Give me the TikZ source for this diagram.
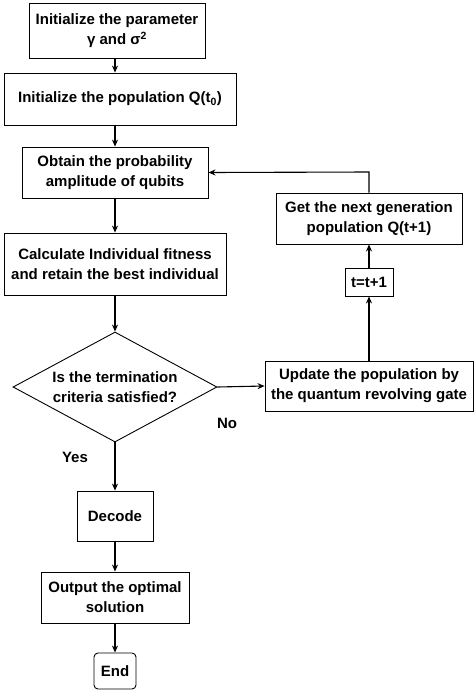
\documentclass[tikz,border=0pt]{standalone}
\usepackage{fontspec}
\setmainfont{Liberation Sans}
\usetikzlibrary{shapes.geometric,arrows.meta}
\tikzset{
  procbox/.style={draw, line width=0.9pt, align=center, inner sep=1pt},
  decbox/.style={draw, diamond, aspect=1.85, line width=0.9pt, align=center, inner sep=0pt},
  flow/.style={line width=1.1pt, -{Stealth[length=7pt,width=6pt]}}
}
\begin{document}
\begin{tikzpicture}[x=1pt, y=-1pt, font=\bfseries\fontsize{15}{20}\selectfont]
\useasboundingbox (0,0) rectangle (474,694);
\node[procbox, minimum width=176pt, minimum height=55pt] (init) at (117, 30.5) {Initialize the parameter\\γ and σ\textsuperscript{2}};
\node[procbox, minimum width=232pt, minimum height=52pt] (pop) at (120, 99) {Initialize the population Q(t\textsubscript{0})};
\node[procbox, minimum width=186pt, minimum height=51pt] (amp) at (115, 172.5) {Obtain the probability\\amplitude of qubits};
\node[procbox, minimum width=222pt, minimum height=62pt] (fit) at (115, 264) {Calculate Individual fitness\\and retain the best individual};
\node[decbox, minimum width=204pt, minimum height=110pt] (term) at (115, 387) {Is the termination\\criteria satisfied?};
\node[procbox, minimum width=208pt, minimum height=50pt] (upd) at (369, 386) {Update the population by\\the quantum revolving gate};
\node[procbox, minimum width=48pt, minimum height=28pt] (inc) at (369, 282) {t=t+1};
\node[procbox, minimum width=186pt, minimum height=51pt] (next) at (369, 218.5) {Get the next generation\\population Q(t+1)};
\node[procbox, minimum width=76pt, minimum height=50pt] (dec) at (115, 516) {Decode};
\node[procbox, minimum width=148pt, minimum height=51pt] (out) at (115, 597.5) {Output the optimal\\solution};
\node[procbox, rounded corners=4pt, minimum width=42pt, minimum height=36pt] (end) at (115, 671) {End};
\node (no) at (227, 423) {No};
\node (yes) at (75, 457) {Yes};
\coordinate (turn) at (369, 172);
\draw[flow] (init.south -| 115,0) -- (pop.north -| 115,0);
\draw[flow] (pop.south -| 115,0) -- (amp.north);
\draw[flow] (amp) -- (fit);
\draw[flow] (fit) -- (term);
\draw[flow] (term.east) -- (upd.west);
\draw[flow] (upd) -- (inc);
\draw[flow] (inc) -- (next);
\draw[flow] (next.north) -- (turn) -- (amp.east);
\draw[flow] (term) -- (dec);
\draw[flow] (dec) -- (out);
\draw[flow] (out) -- (end);
\end{tikzpicture}
\end{document}
